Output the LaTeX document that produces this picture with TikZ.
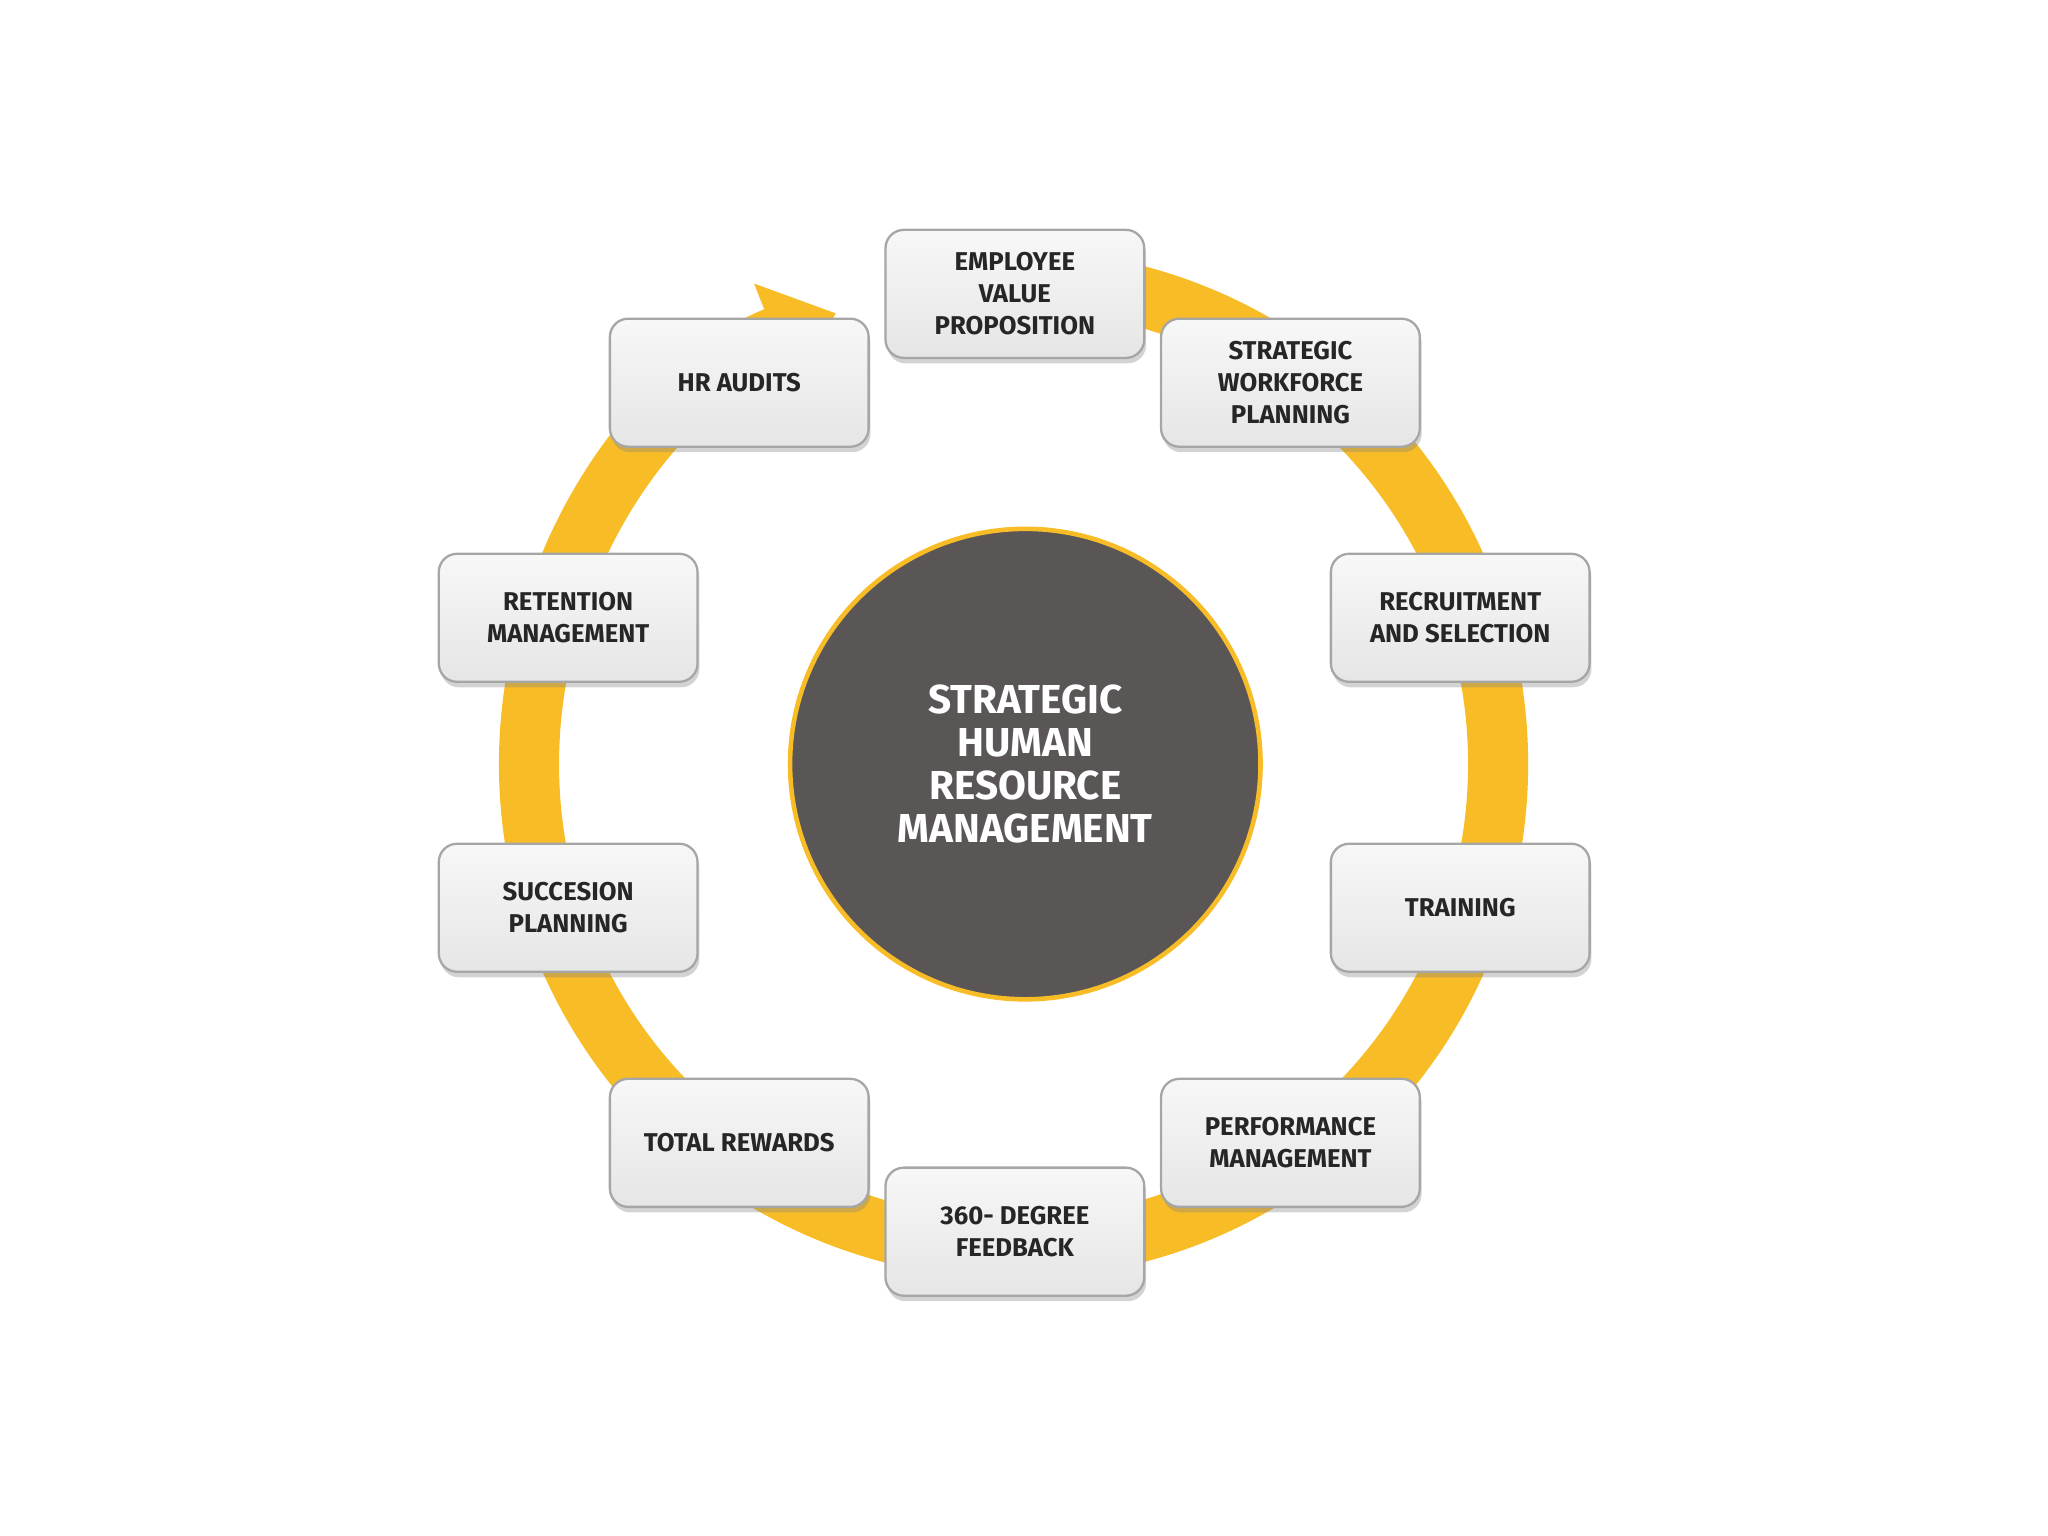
\documentclass[tikz,border=0pt]{standalone}
\usepackage{fontspec}
\setmainfont{Fira Sans}
\usetikzlibrary{arrows.meta,shadows}
\definecolor{ringy}{HTML}{F8BC27}
\definecolor{core}{HTML}{5A5656}
\begin{document}
\begin{tikzpicture}[x=0.01cm,y=-0.01cm,
  box/.style={draw=black!35,line width=0.5pt,rounded corners=4pt,top color=white!97!black,bottom color=black!10,
    minimum width=1.98cm,minimum height=0.98cm,align=center,text=black!85,font=\fontsize{5.6}{7}\selectfont\bfseries,
    drop shadow={shadow xshift=0.4pt,shadow yshift=-1.2pt,opacity=0.35}}]
\useasboundingbox (0,0) rectangle (1568,1176);
\coordinate (c) at (776,585);
\coordinate (s) at (776,214);
\draw[ringy,line width=0.46cm,-{Triangle[width=0.85cm,length=0.5cm]}] (s) arc[start angle=-90,end angle=248.5,radius=371];
\node[circle,draw=ringy,line width=1pt,fill=core,minimum size=3.6cm,text=white,align=center,
  font=\fontsize{8.8}{9.4}\selectfont\bfseries] (core) at (785,585) {STRATEGIC\\HUMAN\\RESOURCE\\MANAGEMENT};
\node[box] (evp) at (777,225) {EMPLOYEE\\VALUE\\PROPOSITION};
\node[box] (swp) at (988,293) {STRATEGIC\\WORKFORCE\\PLANNING};
\node[box] (rs) at (1118,473) {RECRUITMENT\\AND SELECTION};
\node[box] (tr) at (1118,695) {TRAINING};
\node[box] (pm) at (988,875) {PERFORMANCE\\MANAGEMENT};
\node[box] (df) at (777,943) {360- DEGREE\\FEEDBACK};
\node[box] (rw) at (566,875) {TOTAL REWARDS};
\node[box] (sp) at (435,695) {SUCCESION\\PLANNING};
\node[box] (rm) at (435,473) {RETENTION\\MANAGEMENT};
\node[box] (hr) at (566,293) {HR AUDITS};
\end{tikzpicture}
\end{document}
